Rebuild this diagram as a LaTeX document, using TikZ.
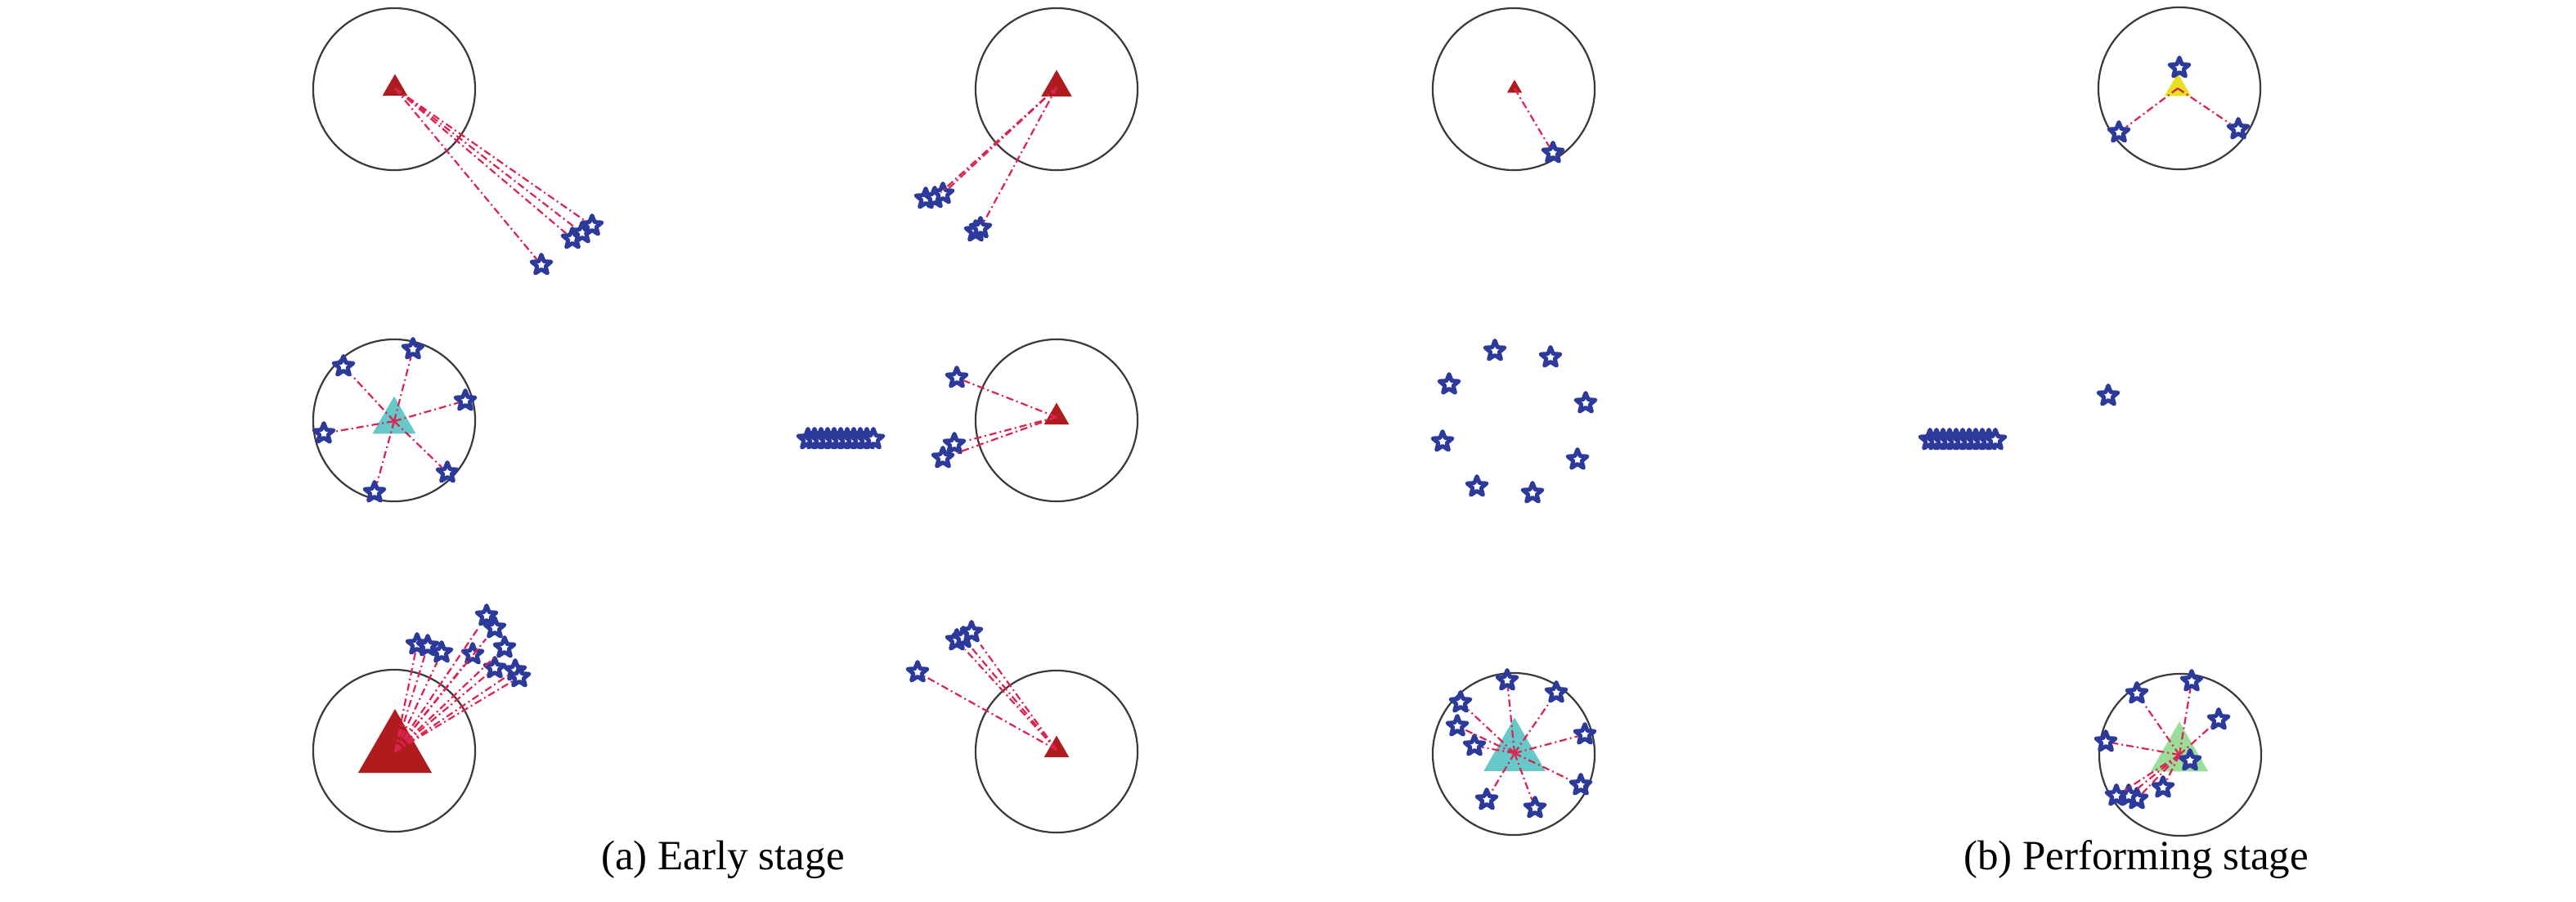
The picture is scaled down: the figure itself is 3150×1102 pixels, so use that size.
\documentclass[tikz,border=0pt]{standalone}
\usepackage{fontspec}
\setmainfont{Liberation Serif}
\usetikzlibrary{shapes.geometric}
\definecolor{starblue}{HTML}{2C3A9C}
\definecolor{ringgray}{HTML}{3A3A3A}
\definecolor{linkred}{HTML}{DC2450}
\definecolor{trired}{HTML}{B01C1E}
\definecolor{tricyan}{HTML}{66C8C8}
\definecolor{triyellow}{HTML}{E6E01E}
\definecolor{trigreen}{HTML}{9ADE9A}
\tikzset{
  ring/.style={circle, draw=ringgray, line width=0.022cm, minimum size=1.98cm, inner sep=0pt},
  st/.style={star, star points=5, star point ratio=2.3, minimum size=0.25cm, inner sep=0pt,
             draw=starblue, line width=0.05cm, fill=white, line join=round},
  tri/.style={regular polygon, regular polygon sides=3, inner sep=0pt, minimum size=#1},
  link/.style={draw=linkred, line width=0.022cm, dash pattern=on 0.09cm off 0.04cm on 0.02cm off 0.04cm},
  captext/.style={font=\fontsize{14.5}{17}\selectfont, inner sep=0pt}
}
\begin{document}
\begin{tikzpicture}[x=0.01cm, y=-0.01cm]
\useasboundingbox[fill=white] (0,0) rectangle (3150,1102);
% ---------------- (a) top-left
\node[ring] (cA1) at (482,109) {};
\node[tri=0.35cm, fill=trired] (tA1) at (483,108) {};
\foreach \p [count=\i] in {(662,324),(700,292),(712,285),(724,276)}
  \node[st] (sA1-\i) at \p {};
\foreach \i in {1,...,4} \draw[link] (tA1.center) -- (sA1-\i);
% ---------------- (a) top-right
\node[ring] (cA2) at (1292,109) {};
\node[tri=0.43cm, fill=trired] (tA2) at (1292,107) {};
\foreach \p [count=\i] in {(1132,243),(1143,242),(1153,237),(1193,283),(1199,279)}
  \node[st] (sA2-\i) at \p {};
\foreach \i in {2,3,5} \draw[link] (tA2.center) -- (sA2-\i);
% ---------------- (a) middle-left
\node[ring] (cA3) at (482,514) {};
\node[tri=0.61cm, fill=tricyan] (tA3) at (482,515) {};
\foreach \p [count=\i] in {(505,427),(420,448),(569,490),(396,530),(547,578),(458,602)}
  \node[st] (sA3-\i) at \p {};
\foreach \i in {1,...,6} \draw[link] (tA3.center) -- (sA3-\i);
% ---------------- (a) middle row
\foreach \i in {0,...,10}
  \node[st] (rA-\i) at (988+8*\i,537) {};
% ---------------- (a) middle-right
\node[ring] (cA4) at (1292,514) {};
\node[tri=0.35cm, fill=trired] (tA4) at (1292,510) {};
\foreach \p [count=\i] in {(1170,462),(1167,543),(1153,560)}
  \node[st] (sA4-\i) at \p {};
\foreach \i in {1,...,3} \draw[link] (tA4.center) -- (sA4-\i);
% ---------------- (a) bottom-left
\node[ring] (cA5) at (482,918) {};
\node[tri=1.04cm, fill=trired] (tA5) at (483,919) {};
\foreach \p [count=\i] in {(510,788),(523,790),(540,798),(595,753),(605,768),(578,800),(617,792),(605,817),(630,820),(635,828)}
  \node[st] (sA5-\i) at \p {};
\foreach \i in {1,...,10} \draw[link] (tA5.center) -- (sA5-\i);
% ---------------- (a) bottom-right
\node[ring] (cA6) at (1292,919) {};
\node[tri=0.35cm, fill=trired] (tA6) at (1292,917) {};
\foreach \p [count=\i] in {(1122,822),(1170,783),(1178,780),(1188,773)}
  \node[st] (sA6-\i) at \p {};
\foreach \i in {1,...,4} \draw[link] (tA6.center) -- (sA6-\i);
% ---------------- (b) top-left
\node[ring] (cB1) at (1851,109) {};
\node[tri=0.21cm, fill=trired] (tB1) at (1852,108) {};
\node[st] (sB1-1) at (1899,187) {};
\draw[link] (tB1.center) -- (sB1-1);
% ---------------- (b) top-right
\node[ring] (cB2) at (2665,108) {};
\node[tri=0.37cm, fill=triyellow] (tB2) at (2663,108) {};
\foreach \p [count=\i] in {(2665,83),(2591,162),(2737,158)}
  \node[st] (sB2-\i) at \p {};
\foreach \i in {2,3} \draw[link] (tB2.center) -- (sB2-\i);
% ---------------- (b) middle-left ring of stars
\foreach \p [count=\i] in {(1828,429),(1896,437),(1772,470),(1939,493),(1764,540),(1929,562),(1806,595),(1874,603)}
  \node[st] (sB3-\i) at \p {};
% ---------------- (b) middle row
\foreach \i in {0,...,10}
  \node[st] (rB-\i) at (2360+8*\i,538) {};
% ---------------- (b) middle-right
\node[st] (sB4-1) at (2578,484) {};
% ---------------- (b) bottom-left
\node[ring] (cB5) at (1851,922) {};
\node[tri=0.87cm, fill=tricyan] (tB5) at (1852,921) {};
\foreach \p [count=\i] in {(1843,832),(1903,847),(1938,898),(1933,960),(1877,988),(1818,978),(1803,912),(1782,888),(1786,859)}
  \node[st] (sB5-\i) at \p {};
\foreach \i in {1,...,9} \draw[link] (tB5.center) -- (sB5-\i);
% ---------------- (b) bottom-right
\node[ring] (cB6) at (2666,923) {};
\node[tri=0.81cm, fill=trigreen] (tB6) at (2665,923) {};
\foreach \p [count=\i] in {(2680,833),(2613,848),(2713,880),(2575,907),(2678,930),(2645,963),(2613,977),(2603,973),(2588,973)}
  \node[st] (sB6-\i) at \p {};
\foreach \i in {1,...,9} \draw[link] (tB6.center) -- (sB6-\i);
% ---------------- captions
\node[captext] (capA) at (884,1051) {(a) Early stage};
\node[captext] (capB) at (2612,1051) {(b) Performing stage};
\end{tikzpicture}
\end{document}
